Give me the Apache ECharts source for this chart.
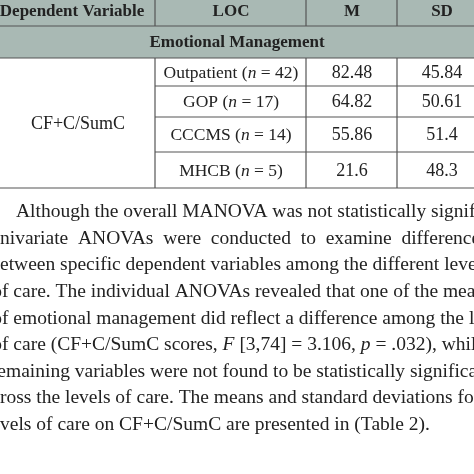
<!DOCTYPE html>
<html>
<head>
<meta charset="utf-8">
<script src="https://cdn.jsdelivr.net/npm/echarts@6/dist/echarts.min.js"></script>
<style>
  html, body { margin: 0; padding: 0; background: #fff; }
  #chart { width: 474px; height: 474px; }
</style>
</head>
<body>
<div id="chart"></div>
<script>
// 表格数据
const headers = ['Dependent Variable', 'LOC', 'M', 'SD'];
const sectionTitle = 'Emotional Management';
const variableName = 'CF+C/SumC';
const locNames = ['Outpatient', 'GOP', 'CCCMS', 'MHCB'];
const locN = [42, 17, 14, 5];
const meanValues = ['82.48', '64.82', '55.86', '21.6'];
const sdValues = ['45.84', '50.61', '51.4', '48.3'];

// 正文段落（每行：隐藏前缀，可见文本，可见起点）
const paraLines = [
  ['', 'Although the overall MANOVA was not statistically significant,', 16],
  ['u', 'nivariate  ANOVAs  were  conducted  to  examine  differences', 0],
  ['b', 'etween specific dependent variables among the different levels', 0],
  ['o', 'f care. The individual ANOVAs revealed that one of the measures', 2],
  ['o', 'f emotional management did reflect a difference among the levels', 2],
  ['o', 'f care (CF+C/SumC scores, {i|F} [3,74] = 3.106, {i|p} = .032), while the', 2],
  ['re', 'maining variables were not found to be statistically significant', 6],
  ['ac', 'ross the levels of care. The means and standard deviations for the', 0],
  ['le', 'vels of care on CF+C/SumC are presented in (Table 2).', 0]
];

const FONT = '"Liberation Serif", "DejaVu Serif", serif';
const colX = [-10, 155, 306, 397, 490];
const rowY = [-4, 26, 58, 86, 117, 152, 188];
const headBg = '#a9b9b4';
const lineColor = '#555';

const chart = echarts.init(document.getElementById('chart'));
const ctx = document.createElement('canvas').getContext('2d');
ctx.font = '19.5px ' + FONT;

const richItalic = size => ({ i: { fontStyle: 'italic', fontSize: size, fontFamily: FONT, fill: '#222' } });

function txt(x, y, s, opt = {}) {
  return {
    type: 'text', x, y,
    style: Object.assign({
      text: s, fill: '#222', font: '18px ' + FONT,
      align: 'center', verticalAlign: 'middle'
    }, opt)
  };
}

const els = [];
// 背景
els.push({ type: 'rect', shape: { x: -10, y: rowY[0], width: 500, height: rowY[2] - rowY[0] }, style: { fill: headBg } });

// 横线
[rowY[1], rowY[2], rowY[6]].forEach(y => {
  els.push({ type: 'line', shape: { x1: -10, y1: y, x2: 490, y2: y }, style: { stroke: lineColor, lineWidth: 1.2 } });
});
for (let i = 3; i < 6; i++) {
  els.push({ type: 'line', shape: { x1: colX[1], y1: rowY[i], x2: 490, y2: rowY[i] }, style: { stroke: lineColor, lineWidth: 1.2 } });
}
// 竖线
colX.slice(1, 4).forEach(x => {
  els.push({ type: 'line', shape: { x1: x, y1: rowY[0], x2: x, y2: rowY[1] }, style: { stroke: lineColor, lineWidth: 1.2 } });
  els.push({ type: 'line', shape: { x1: x, y1: rowY[2], x2: x, y2: rowY[6] }, style: { stroke: lineColor, lineWidth: 1.2 } });
});

// 表头
const headCx = [72, 231, 352, 442];
headers.forEach((h, i) => els.push(txt(headCx[i], 12, h, { font: 'bold 17px ' + FONT })));
els.push(txt(237, 43, sectionTitle, { font: 'bold 17px ' + FONT }));
els.push(txt(78, 124, variableName));

// 数据行
locNames.forEach((name, i) => {
  const cy = (rowY[i + 2] + rowY[i + 3]) / 2 + 1;
  els.push(txt(headCx[1], cy, `${name} ({i|n} = ${locN[i]})`, { font: '17.5px ' + FONT, rich: richItalic(17.5) }));
  els.push(txt(headCx[2], cy, meanValues[i]));
  els.push(txt(headCx[3], cy, sdValues[i]));
});

// 段落
paraLines.forEach((ln, i) => {
  const offset = ctx.measureText(ln[0]).width;
  els.push(txt(ln[2] - offset, 212 + i * 26.6, ln[0] + ln[1], {
    align: 'left', font: '19.5px ' + FONT, rich: richItalic(19.5)
  }));
});

chart.setOption({ animation: false, graphic: { elements: els } });
</script>
</body>
</html>
